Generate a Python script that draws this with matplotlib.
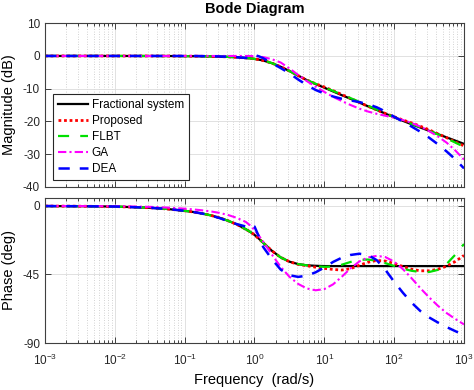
import numpy as np
import matplotlib
matplotlib.use("Agg")
import matplotlib.pyplot as plt
from matplotlib.ticker import LogLocator, NullFormatter

plt.rcParams["font.family"] = ["Liberation Sans", "DejaVu Sans"]
plt.rcParams["mathtext.fontset"] = "custom"
plt.rcParams["mathtext.rm"] = "Liberation Sans"
plt.rcParams["mathtext.it"] = "Liberation Sans:italic"
plt.rcParams["axes.unicode_minus"] = False

# log10 of frequency (rad/s)
log_freq = [-3, -2.5, -2, -1.5, -1.25, -1, -0.875, -0.75, -0.625, -0.5,
            -0.375, -0.25, -0.125, -0.0625, 0, 0.0625, 0.125, 0.25, 0.375, 0.5,
            0.625, 0.75, 0.875, 1.0, 1.125, 1.25, 1.375, 1.5, 1.625, 1.75,
            1.875, 2.0, 2.125, 2.25, 2.375, 2.5, 2.625, 2.75, 2.875, 3.0]

# magnitude (dB)
frac_mag = [0, 0, 0, -0.01, -0.02, -0.05, -0.07, -0.1, -0.14, -0.2,
            -0.28, -0.4, -0.6, -0.72, -0.9, -1.12, -1.4, -2.2, -3.3, -4.6,
            -6.0, -7.4, -8.6, -9.7, -10.85, -12.0, -13.1, -14.25, -15.4, -16.5,
            -17.65, -18.8, -19.85, -20.9, -21.9, -22.9, -23.9, -24.9, -25.9, -26.9]
prop_mag = [0, 0, 0, -0.01, -0.02, -0.05, -0.07, -0.1, -0.14, -0.2,
            -0.28, -0.4, -0.6, -0.72, -0.9, -1.12, -1.4, -2.2, -3.3, -4.6,
            -6.0, -7.4, -8.5, -9.5, -10.6, -11.8, -13.0, -14.2, -15.4, -16.5,
            -17.6, -18.6, -19.6, -20.5, -21.5, -22.6, -23.8, -25.0, -26.3, -27.5]
flbt_mag = [0, 0, 0, -0.01, -0.02, -0.05, -0.07, -0.1, -0.14, -0.2,
            -0.28, -0.4, -0.6, -0.72, -0.9, -1.12, -1.4, -2.2, -3.3, -4.6,
            -6.0, -7.4, -8.5, -9.6, -10.7, -11.8, -12.9, -14.0, -15.2, -16.4,
            -17.6, -18.7, -19.8, -20.8, -21.8, -22.9, -24.0, -25.2, -26.5, -27.8]
ga_mag = [0, 0, 0, 0, 0, 0, 0, 0, 0, 0,
          0, 0, 0, 0, -0.05, -0.15, -0.35, -1.0, -2.0, -3.8,
          -5.8, -7.7, -9.4, -11.0, -12.5, -13.8, -15.0, -16.1, -17.0, -17.7,
          -18.3, -18.9, -19.6, -20.5, -21.6, -23.0, -24.6, -26.5, -28.9, -31.7]
dea_mag = [0, 0, 0, 0, 0, 0, 0, -0.05, -0.1, -0.15,
           -0.25, -0.4, -0.6, -0.5, 0.3, -0.1, -0.7, -2.2, -3.7, -5.3,
           -7.2, -8.9, -10.4, -11.5, -12.4, -13.1, -13.6, -14.1, -14.8, -15.7,
           -17.0, -18.6, -20.1, -21.6, -23.2, -25.0, -27.0, -29.2, -31.6, -34.4]

# phase (deg)
frac_ph = [-0.1, -0.2, -0.4, -1.2, -2.0, -3.2, -4.0, -5.0, -6.2, -7.8,
           -9.8, -12.2, -15.3, -17.0, -19.0, -21.5, -24.2, -29.5, -33.8, -36.6,
           -38.2, -39.0, -39.3, -39.5, -39.5, -39.5, -39.5, -39.5, -39.5, -39.5,
           -39.5, -39.5, -39.5, -39.5, -39.5, -39.5, -39.5, -39.5, -39.5, -39.5]
prop_ph = [-0.1, -0.2, -0.4, -1.2, -2.0, -3.2, -4.0, -5.0, -6.2, -7.8,
           -9.8, -12.2, -15.3, -17.0, -19.0, -21.5, -24.2, -29.5, -33.8, -36.6,
           -38.4, -39.3, -40.2, -41.0, -41.7, -42.1, -41.2, -39.0, -37.0, -35.8,
           -36.2, -37.8, -39.8, -41.6, -42.6, -42.6, -41.6, -39.6, -36.5, -32.5]
flbt_ph = [-0.1, -0.2, -0.4, -1.2, -2.0, -3.2, -4.0, -5.0, -6.2, -7.8,
           -9.8, -12.2, -15.3, -17.0, -19.0, -21.5, -24.2, -29.5, -33.8, -36.6,
           -38.2, -39.0, -39.6, -40.0, -39.8, -38.6, -36.8, -35.4, -35.2, -36.0,
           -37.6, -39.4, -41.2, -42.6, -43.4, -43.4, -42.0, -38.2, -32.0, -25.0]
ga_ph = [0, -0.1, -0.2, -0.6, -1.1, -1.8, -2.3, -2.9, -3.6, -4.6,
         -6.0, -7.9, -10.5, -12.8, -15.8, -19.5, -23.5, -32.0, -40.0, -46.5,
         -51.2, -54.2, -55.4, -54.6, -51.5, -46.5, -41.0, -36.5, -33.8, -32.8,
         -33.6, -36.6, -41.5, -47.5, -54.0, -60.0, -65.5, -70.3, -74.2, -77.8]
dea_ph = [-0.1, -0.2, -0.4, -1.2, -2.0, -3.2, -4.0, -5.0, -6.3, -8.0,
          -10.0, -12.0, -13.5, -12.0, -13.5, -20.0, -27.0, -35.0, -41.8, -45.5,
          -46.6, -45.8, -43.6, -40.4, -36.8, -34.0, -32.2, -31.4, -32.2, -35.6,
          -42.0, -49.8, -57.0, -63.5, -69.0, -73.2, -76.5, -79.5, -82.2, -84.8]

labels = ["Fractional system", "Proposed", "FLBT", "GA", "DEA"]
mags = [frac_mag, prop_mag, flbt_mag, ga_mag, dea_mag]
phases = [frac_ph, prop_ph, flbt_ph, ga_ph, dea_ph]
styles = [
    dict(color="black", linestyle="-", linewidth=1.6),
    dict(color="#ff0000", linestyle=(0, (1, 1)), linewidth=2.0),
    dict(color="#00e000", linestyle=(0, (5, 5)), linewidth=1.6),
    dict(color="#ff00ff", linestyle=(0, (4, 1.5, 1, 1.5)), linewidth=1.5),
    dict(color="#0000ff", linestyle=(0, (4.5, 4)), linewidth=1.8),
]

freq = 10.0 ** np.array(log_freq)

fig = plt.figure(figsize=(4.74, 3.9), dpi=100)
ax1 = fig.add_axes([0.0949, 0.5213, 0.884, 0.419])
ax2 = fig.add_axes([0.0949, 0.1205, 0.884, 0.3726])

for lab, m, p, st in zip(labels, mags, phases, styles):
    ax1.semilogx(freq, m, label=lab, **st)
    ax2.semilogx(freq, p, **st)

for ax in (ax1, ax2):
    ax.set_xlim(1e-3, 1e3)
    ax.xaxis.set_major_locator(LogLocator(base=10, numticks=10))
    ax.xaxis.set_minor_locator(LogLocator(base=10, subs=np.arange(2, 10), numticks=10))
    ax.xaxis.set_minor_formatter(NullFormatter())
    ax.grid(which="major", color="#dcdcdc", linestyle="-", linewidth=0.6)
    ax.grid(which="minor", axis="x", color="#c4c4c4", linestyle=(0, (1, 2)), linewidth=0.6)
    ax.tick_params(which="both", direction="in", top=True, right=True,
                   colors="#262626", labelsize=8.5, width=0.6)
    ax.tick_params(which="major", length=4)
    ax.tick_params(which="minor", length=2)
    for sp in ax.spines.values():
        sp.set_color("#404040")
        sp.set_linewidth(0.8)
    ax.set_axisbelow(True)

ax1.set_ylim(-40, 10)
ax1.set_yticks([-40, -30, -20, -10, 0, 10])
ax1.tick_params(axis="x", which="both", labelbottom=False)
ax2.set_ylim(-90, 5.4)
ax2.set_yticks([-90, -45, 0])
ax2.tick_params(axis="x", which="major", pad=7)

ax1.set_ylabel("Magnitude (dB)", fontsize=10.5)
ax2.set_ylabel("Phase (deg)", fontsize=10.5)
ax1.yaxis.set_label_coords(-0.07, 0.5)
ax2.yaxis.set_label_coords(-0.07, 0.5)
ax2.set_xlabel("Frequency  (rad/s)", fontsize=10.5, labelpad=4)
fig.text(0.537, 1 - 9 / 390, "Bode Diagram", ha="center", va="center",
         fontsize=10.5, fontweight="bold")

leg = ax1.legend(loc="lower left", bbox_to_anchor=(0.0198, 0.041), borderaxespad=0,
                 fontsize=8.5, handlelength=2.5, handletextpad=0.35,
                 labelspacing=0.35, borderpad=0.4, fancybox=False, framealpha=1)
leg.get_frame().set_edgecolor("#262626")
leg.get_frame().set_linewidth(0.8)

fig.savefig("out.png", dpi=100)
